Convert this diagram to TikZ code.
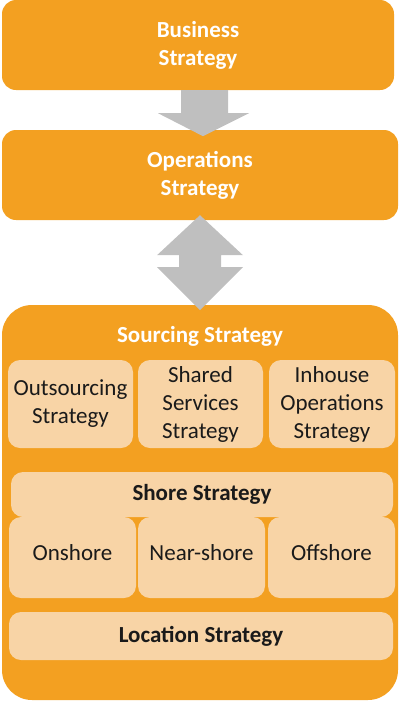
\documentclass[tikz,border=0pt]{standalone}
\usepackage{fontspec}
\setmainfont{Carlito}
\usetikzlibrary{calc}
\definecolor{srcorange}{HTML}{F3A021}
\definecolor{srcpeach}{HTML}{F8D4A6}
\definecolor{arrowgrey}{HTML}{BFBFBF}
\definecolor{darktext}{HTML}{1A1A1A}

\begin{document}
\begin{tikzpicture}[x=1pt, y=-1pt,
        orangebox/.style={fill=srcorange, rounded corners=14pt, text=white, font=\fontsize{23}{28}\selectfont\bfseries, align=center, inner sep=0pt},
        peachbox/.style={fill=srcpeach, rounded corners=12pt, text=darktext, font=\fontsize{23}{28}\selectfont, align=center, inner sep=0pt},
        boldtext/.style={font=\fontsize{23}{28}\selectfont\bfseries},
        greyarrow/.style={fill=arrowgrey}]
        \useasboundingbox (0,0) rectangle (400,702);

        \node[orangebox, minimum width=392pt, minimum height=90pt] (biz) at (198,45) {Business\\Strategy};
        \node[orangebox, minimum width=396pt, minimum height=90pt] (ops) at (200,175) {Operations\\Strategy};
        \node[orangebox, rounded corners=30pt, minimum width=396pt, minimum height=395pt] (src) at (200,502.5) {};
        \node[boldtext, text=white] (srctitle) at (200,336) {Sourcing Strategy};

        % sourcing options
        \foreach \name/\x/\w/\txt in {outsrc/70.5/125/{Outsourcing\\Strategy}, shared/200.5/125/{Shared\\Services\\Strategy}, inhouse/332/126/{Inhouse\\Operations\\Strategy}}
            \node[peachbox, minimum width=\w pt, minimum height=88pt] (\name) at (\x,404) {\txt};

        \node[peachbox, boldtext, minimum width=382pt, minimum height=45pt] (shore) at (202,494.5) {Shore Strategy};

        % shore options
        \foreach \name/\x/\txt in {onshore/72.5/Onshore, nearshore/201.5/Near-shore, offshore/331.5/Offshore}
            \node[peachbox, minimum width=127pt, minimum height=81pt, text depth=9pt] (\name) at (\x,557.5) {\txt};

        \node[peachbox, boldtext, minimum width=384pt, minimum height=48pt] (loc) at (201,636) {Location Strategy};

        % block arrows
        \fill[greyarrow] ([xshift=-17pt]biz.south) -- ++(0,23) -- ++(-23,0) -- ++(45,23) -- ++(46,-23) -- ++(-21,0) -- ++(0,-23) -- cycle;
        \fill[greyarrow] ([yshift=5pt]ops.south) -- ++(-43,40) -- ++(22,0) -- ++(0,12) -- ++(-22,0) -- ++(43,43)
            -- ++(43,-43) -- ++(-22,0) -- ++(0,-12) -- ++(22,0) -- cycle;
    \end{tikzpicture}
\end{document}
